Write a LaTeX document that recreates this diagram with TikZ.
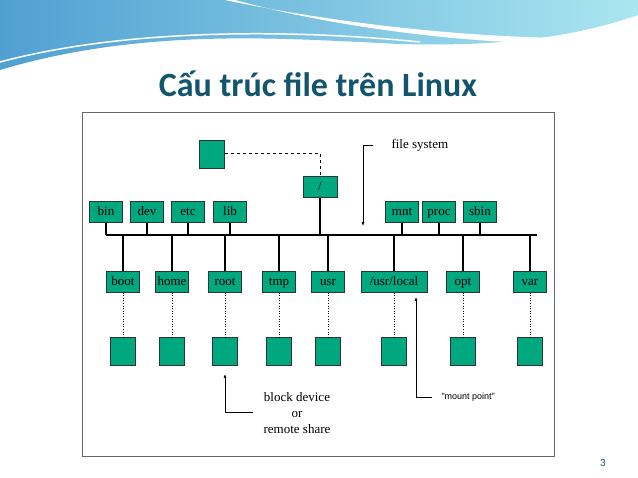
\documentclass[tikz,border=0pt]{standalone}
\usepackage{fontspec}
\setmainfont{Liberation Serif}
\newfontfamily\titlefont{Carlito}
\newfontfamily\arialfont{Liberation Sans}
\usetikzlibrary{shapes.geometric,arrows.meta}
\definecolor{boxgreen}{RGB}{0,168,128}
\definecolor{titleblue}{RGB}{20,85,110}
\begin{document}
\begin{tikzpicture}[x=1pt,y=1pt,
  dirbox/.style={draw=black!80,fill=boxgreen,minimum height=21pt,inner sep=1pt,text height=9pt,text depth=2.5pt,font=\fontsize{13}{13}\selectfont},
  disk/.style={cylinder,shape border rotate=90,draw=black!80,line width=0.8pt,fill=boxgreen,minimum width=25pt,minimum height=28pt,aspect=0.35,inner sep=0pt},
  tree/.style={line width=1.2pt},
  dotl/.style={dotted,line width=0.6pt},
  callout/.style={line width=0.7pt,-{Latex[length=4pt,width=3pt]}},
  lbl/.style={font=\fontsize{13}{16}\selectfont,align=center}]
\useasboundingbox (0,-478) rectangle (638,0);
\fill[white] (0,-478) rectangle (638,0);
% header
\shade[left color={rgb,255:red,80;green,160;blue,210},right color={rgb,255:red,170;green,230;blue,240}]
  (0,0) -- (638,0) -- (638,-15) .. controls (560,-42) and (480,-46) .. (400,-44) .. controls (300,-40) and (150,-25) .. (0,-70) -- cycle;
\fill[white] (225,0) .. controls (330,-22) and (450,-36) .. (560,-38) .. controls (600,-36) and (620,-28) .. (638,-18) -- (638,-22) .. controls (620,-34) and (600,-42) .. (560,-44) .. controls (450,-42) and (330,-26) .. (235,0) -- cycle;
\fill[white] (0,-72) .. controls (120,-38) and (300,-36) .. (420,-46) .. controls (520,-50) and (600,-40) .. (638,-28) -- (638,-40) .. controls (560,-58) and (450,-52) .. (380,-50) .. controls (250,-46) and (120,-50) .. (0,-80) -- cycle;
\draw[white,line width=1.5pt] (0,-62) .. controls (120,-30) and (280,-28) .. (420,-42);
\node[font=\titlefont\bfseries\fontsize{34}{34}\selectfont,text=titleblue] (title) at (318,-84) {Cấu trúc file trên Linux};
% frame
\node[draw=black!60,line width=0.8pt,minimum width=472pt,minimum height=344pt,inner sep=0pt] (frame) at (318,-284) {};
% nodes
\node[dirbox,minimum width=34pt] (root) at (320,-187) {/};
\node[disk] (rdisk) at (212,-155) {};
\foreach \n/\x in {bin/106,dev/147,etc/188,lib/230,mnt/402,proc/439,sbin/480}
  \node[dirbox,minimum width=33pt] (\n) at (\x,-212) {\n};
\coordinate (busL) at (106,-235);
\coordinate (busR) at (537,-235);
\draw[tree] (busL) -- (busR);
\draw[tree] (root) -- (root |- busL);
\foreach \n in {bin,dev,etc,lib,mnt,proc,sbin}
  \draw[tree] (\n) -- (\n |- busL);
\foreach \n/\t/\x/\w in {boot/boot/123/33,home/home/172/33,rt/root/225/33,tmp/tmp/279/33,usr/usr/328/33,ul/{/usr/local}/394/66,opt/opt/463/33,var/var/530/33}{
  \node[dirbox,minimum width=\w pt] (\n) at (\x,-282) {\t};
  \draw[tree] (\n) -- (\n |- busL);
  \node[disk] (d\n) at (\x,-352) {};
  \draw[dotl] (\n.south) -- (d\n.top);
}
\draw[dashed,line width=0.6pt] (rdisk.east |- 0,-153) -| (root.north);
% callouts
\node[lbl,anchor=west] (fs) at (388,-145) {file system};
\coordinate (fsA) at (373,-145);
\coordinate (fsB) at (363,-226);
\draw[callout] (fsA) -| (fsB);
\node[lbl] (bd) at (297,-413) {block device\\or\\remote share};
\coordinate (bdA) at (253,-412);
\draw[callout] (bdA) -| (drt.south |- 0,-374);
\node[font=\arialfont\fontsize{9}{9}\selectfont,anchor=west] (mp) at (438,-397) {"mount point"};
\coordinate (mpA) at (432,-397);
\coordinate (mpB) at (416,-297);
\draw[callout] (mpA) -| (mpB);
\node[font=\titlefont\fontsize{11}{11}\selectfont,text=titleblue] (pg) at (603,-463) {3};
\end{tikzpicture}
\end{document}
